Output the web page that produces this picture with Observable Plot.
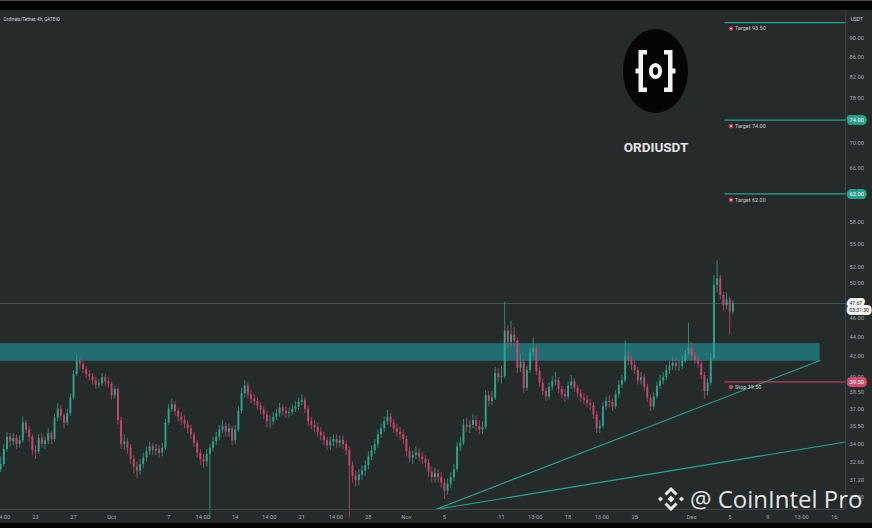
<!DOCTYPE html>
<html><head><meta charset="utf-8">
<script src="https://cdn.jsdelivr.net/npm/d3@7"></script>
<script src="https://cdn.jsdelivr.net/npm/@observablehq/plot@0.6"></script>
<style>
html,body{margin:0;padding:0;background:#000;}
#wrap{position:relative;width:872px;height:528px;overflow:hidden;background:#000;border-top:1px solid #4b4b4b;box-sizing:border-box;}
#chart{position:absolute;left:0;top:9px;}
#overlay{position:absolute;left:0;top:-1px;pointer-events:none;}
</style></head>
<body><div id="wrap"><div id="chart"></div>
<svg id="overlay" width="872" height="528" xmlns="http://www.w3.org/2000/svg">
  <ellipse cx="655.5" cy="71" rx="32.5" ry="42" fill="#050505"/>
  <path d="M647 50 H638.5 V68.5 H635.5 V73.5 H638.5 V92 H647 V87.5 H643 V54.5 H647 Z" fill="#f2f2f2"/>
  <path d="M664 50 H672.5 V68.5 H675.5 V73.5 H672.5 V92 H664 V87.5 H668 V54.5 H664 Z" fill="#f2f2f2"/>
  <ellipse cx="655.5" cy="71" rx="4.6" ry="6" fill="none" stroke="#f2f2f2" stroke-width="4"/>
  <text x="656" y="152" text-anchor="middle" font-family="Roboto, 'Noto Sans', sans-serif" font-weight="700" font-size="13.5" fill="#e5e5e5">ORDIUSDT</text>
  <g fill="rgba(255,255,255,0.9)">
    <polygon points="671,495.5 674.5,499 671,502.5 667.5,499"/>
    <polygon points="660.5,496.5 663,499 660.5,501.5 658,499"/>
    <polygon points="681.5,496.5 684,499 681.5,501.5 679,499"/>
  </g>
  <g fill="none" stroke="rgba(255,255,255,0.9)" stroke-width="3">
    <polyline points="665.5,494.5 671,489 676.5,494.5"/>
    <polyline points="665.5,503.5 671,509 676.5,503.5"/>
  </g>
  <text x="690" y="508" font-family="'Open Sans', sans-serif" font-size="24" fill="rgba(255,255,255,0.9)">@ CoinIntel Pro</text>
</svg>
</div>
<script>
// ---- data ----
const title = "Ordinals/Tether, 4h, GATEIO";
const candleStart = Date.UTC(2023, 8, 19, 8);
const candleStepMs = 8 * 3600 * 1000;
const firstOpen = 32.0;
const closes = [
32.4,33.6,34.6,34.2,34.5,34.0,34.3,35.8,35.2,34.6,
33.5,33.4,34.5,34.0,34.3,34.9,34.4,36.2,37.0,36.4,
35.8,36.6,38.0,40.2,41.5,41.2,40.7,40.2,40.0,39.6,
39.2,39.3,39.9,39.5,39.3,38.2,38.8,36.0,34.0,34.2,
33.7,32.8,32.2,31.9,32.4,32.9,33.4,33.8,33.5,33.6,
33.3,33.7,35.8,37.0,37.4,36.8,36.3,36.0,35.7,35.3,
34.8,34.1,33.3,32.8,32.6,33.2,33.7,34.2,34.6,35.2,
35.5,35.0,35.3,34.3,35.2,36.8,38.4,39.1,38.3,37.9,
37.7,37.3,36.9,36.5,35.9,35.9,36.3,36.6,37.1,36.8,
36.6,36.7,37.0,37.2,37.6,37.8,37.0,35.9,35.6,35.4,
35.0,34.7,34.3,33.9,34.2,34.4,34.1,34.3,34.0,33.5,
32.3,31.5,31.2,31.6,31.9,32.3,33.0,33.5,34.0,34.8,
35.3,35.9,36.3,35.8,35.3,35.0,34.8,34.4,33.4,32.9,
33.1,33.3,33.0,32.8,32.5,31.8,31.4,31.7,31.4,31.0,
30.4,30.9,31.4,32.0,33.8,34.1,35.6,35.4,35.6,36.0,
35.5,35.2,35.4,38.2,37.7,38.0,40.3,39.9,40.0,44.6,
43.4,44.2,43.6,40.8,41.4,38.9,40.6,42.4,42.8,40.5,
39.4,38.6,38.1,39.0,39.5,39.6,38.8,38.3,38.1,39.1,
39.5,38.9,38.4,38.0,37.8,37.5,37.3,36.5,35.3,35.5,
37.2,37.7,37.6,37.2,38.3,39.2,39.6,42.0,41.6,41.1,
40.6,39.6,39.9,39.0,38.0,37.2,38.1,39.1,39.6,39.9,
40.6,41.0,41.3,41.0,41.0,41.5,42.2,42.8,42.0,41.6,
41.2,40.1,38.6,39.4,41.8,49.8,50.6,48.6,47.4,48.1,
46.7,47.67];
const highs = [
33.0,34.0,35.0,34.9,34.9,34.8,34.7,36.3,36.0,35.5,
34.8,33.9,34.8,34.9,34.6,35.3,35.1,36.5,37.5,37.3,
36.6,37.0,38.4,40.6,42.1,41.9,41.5,41.0,40.6,40.3,
39.9,39.7,40.3,40.2,39.9,39.5,39.1,39.0,36.3,34.8,
34.5,34.0,33.1,32.6,32.8,33.3,33.8,34.2,34.1,34.0,
33.9,34.1,36.1,37.4,37.9,37.7,37.1,36.7,36.4,36.0,
35.6,35.0,34.3,33.6,33.2,33.6,34.0,34.6,35.0,35.6,
36.0,35.8,35.7,35.5,35.6,37.2,38.9,39.6,39.4,38.7,
38.3,38.0,37.6,37.2,36.8,36.4,36.7,37.0,37.5,37.4,
37.2,37.1,37.4,37.7,38.0,38.3,38.1,37.3,36.3,36.0,
35.8,35.4,35.0,34.6,34.6,34.8,34.8,34.7,34.7,34.3,
33.8,32.6,31.9,32.0,32.3,32.7,33.4,33.9,34.4,35.2,
35.7,36.3,36.9,36.6,36.1,35.7,35.4,35.2,34.7,33.8,
33.5,33.8,33.7,33.4,33.1,32.8,32.2,32.1,32.0,31.8,
31.3,31.3,31.8,32.4,34.2,34.6,36.1,36.2,36.0,36.5,
36.4,36.0,35.9,38.7,38.6,38.6,40.9,40.8,41.0,47.8,
45.2,45.7,45.0,43.9,42.2,41.7,41.0,42.9,43.9,43.1,
40.9,39.8,38.9,39.4,40.0,40.4,39.9,39.1,38.8,39.5,
40.1,39.8,39.2,38.8,38.4,38.2,37.9,37.6,36.8,36.0,
37.6,38.1,38.2,37.9,38.7,39.6,40.1,43.6,42.6,42.0,
41.5,40.9,40.4,40.2,39.3,38.3,38.5,39.5,40.1,40.4,
41.1,41.5,41.8,41.8,41.6,42.0,42.6,45.5,43.4,42.4,
42.0,41.6,40.4,39.8,42.3,51.0,52.8,51.0,49.0,48.9,
48.4,48.0];
const lows = [
31.8,32.2,33.4,33.8,33.9,33.6,33.7,34.1,34.9,34.2,
33.1,32.8,33.2,33.7,33.6,34.0,34.0,34.2,35.9,36.0,
35.3,35.6,36.4,37.8,40.0,40.7,40.3,39.8,39.6,39.2,
38.8,38.9,39.1,39.1,38.9,37.8,37.9,35.6,33.6,33.5,
33.2,32.4,31.7,31.3,31.6,32.1,32.6,33.1,33.1,33.1,
32.9,33.0,33.5,35.6,36.7,36.4,35.9,35.6,35.3,34.9,
34.4,33.8,32.9,32.3,32.1,32.2,28.4,33.4,33.9,34.3,
34.9,34.6,34.6,33.9,34.0,35.0,36.6,38.0,37.9,37.5,
37.3,36.9,36.5,36.1,35.4,35.3,35.6,36.0,36.3,36.4,
36.2,36.2,36.4,36.7,36.9,37.3,36.6,35.5,35.2,35.0,
34.6,34.3,33.9,33.5,33.5,33.8,33.7,33.7,33.6,33.1,
28.5,31.0,30.7,30.8,31.2,31.5,32.0,32.7,33.2,33.7,
34.5,35.0,35.6,35.4,34.9,34.6,34.3,34.0,33.0,32.5,
32.4,32.8,32.6,32.4,32.1,31.4,31.0,31.0,31.0,30.6,
29.8,30.1,30.6,31.1,31.8,33.4,33.9,35.0,34.9,35.3,
35.1,34.8,34.8,35.2,37.2,37.3,37.8,39.4,39.3,39.8,
42.8,43.0,42.9,40.3,40.4,38.4,38.6,40.3,42.0,40.1,
39.0,38.2,37.7,37.8,38.7,39.1,38.4,37.9,37.6,37.8,
38.8,38.5,38.0,37.6,37.4,37.1,36.9,36.1,34.9,34.9,
35.3,36.9,37.1,36.8,37.0,38.0,38.9,39.4,41.1,40.6,
40.2,39.2,39.2,38.6,37.6,36.8,36.9,37.9,38.8,39.2,
39.6,40.2,40.6,40.6,40.5,40.7,41.3,42.0,41.6,41.2,
40.8,39.7,37.9,38.2,39.1,41.5,48.9,48.1,46.8,46.9,
44.2,46.4];

const xStart = new Date("2023-09-19T07:40Z");
const xEnd = new Date("2023-12-17T04:05Z");
const yMin = 29.09, yMax = 96.25;

const xTickDates = ["2023-09-19T14:00Z","2023-09-23","2023-09-27","2023-10-01","2023-10-07","2023-10-10T14:00Z","2023-10-14","2023-10-17T14:00Z","2023-10-21","2023-10-24T14:00Z","2023-10-28","2023-11-01","2023-11-05","2023-11-11","2023-11-14T13:00Z","2023-11-18","2023-11-21T13:00Z","2023-11-25","2023-12-01","2023-12-05","2023-12-09","2023-12-12T13:00Z","2023-12-16"];
const xTickLabels = ["14:00","23","27","Oct","7","14:00","14","14:00","21","14:00","28","Nov","5","11","13:00","18","13:00","25","Dec","5","9","13:00","16"];
const yTicks = [30,31.2,32.6,34,35.5,37,38.5,40,42,44,46,50,52,55,58,62,66,70,74,78,82,86,90];

const bandLow = 41.5, bandHigh = 43.3, bandEnd = new Date("2023-12-14T12:00Z");
const trendStart = new Date("2023-11-04T01:30Z");
const trendEnds = [
  {date: new Date("2023-12-14T13:00Z"), price: 41.6},
  {date: xEnd, price: 34.2}
];
const targets = [93.5, 74, 62];
const stopPrice = 39.5;
const levelStart = new Date("2023-12-04T12:00Z");
const lastPrice = 47.67;
const countdown = "03:31:30";

// ---- build ----
const up = "#31a38b", down = "#c7486b", teal = "#2aa58f", pink = "#d24c71";
const candles = closes.map((c, i) => ({
  date: new Date(candleStart + i * candleStepMs),
  open: i === 0 ? firstOpen : closes[i - 1],
  close: c, high: highs[i], low: lows[i]
}));
const colorOf = d => d.close >= d.open ? up : down;
const xTicks = xTickDates.map(s => new Date(s));
const xLabelMap = new Map(xTicks.map((d, i) => [+d, xTickLabels[i]]));
const trendLines = trendEnds.map(e => ({x1: trendStart, y1: yMin, x2: e.date, y2: e.price}));
const boxes = [
  {value: 74, text: "74.00", fill: "#ffffff", box: "#26a08c"},
  {value: 62, text: "62.00", fill: "#ffffff", box: "#26a08c"},
  {value: stopPrice, text: stopPrice.toFixed(2), fill: "#ffffff", box: pink}
];

const chart = Plot.plot({
  width: 872, height: 513,
  marginTop: 0, marginRight: 27, marginBottom: 14, marginLeft: 0,
  style: {background: "#252a2a", color: "#a3a7ad", fontFamily: "Roboto, 'Noto Sans', sans-serif", fontSize: "5.8px"},
  x: {type: "utc", domain: [xStart, xEnd], ticks: xTicks, tickFormat: d => xLabelMap.get(+d) ?? "", tickSize: 0, tickPadding: 5, label: null},
  y: {type: "log", domain: [yMin, yMax], ticks: yTicks, tickFormat: d => d.toFixed(2), axis: "right", tickSize: 0, tickPadding: 4, label: null},
  marks: [
    Plot.rect([{x1: xStart, x2: bandEnd, y1: bandLow, y2: bandHigh}], {x1: "x1", x2: "x2", y1: "y1", y2: "y2", fill: "#216d71"}),
    Plot.ruleY([lastPrice], {stroke: "#5a5f63", strokeWidth: 0.8}),
    Plot.link(trendLines, {x1: "x1", y1: "y1", x2: "x2", y2: "y2", stroke: teal, strokeWidth: 1.1}),
    Plot.ruleX(candles, {x: "date", y1: "low", y2: "high", stroke: colorOf, strokeWidth: 0.8}),
    Plot.ruleX(candles, {x: "date", y1: "open", y2: "close", stroke: colorOf, strokeWidth: 1.9}),
    Plot.ruleY(targets, {y: d => d, x1: () => levelStart, x2: () => xEnd, stroke: teal, strokeWidth: 1.2}),
    Plot.ruleY([stopPrice], {y: d => d, x1: () => levelStart, x2: () => xEnd, stroke: pink, strokeWidth: 1}),
    Plot.dot(targets, {x: () => levelStart, y: d => d, dx: 6, dy: 6, r: 2.3, fill: "#b8384f"}),
    Plot.dot(targets, {x: () => levelStart, y: d => d, dx: 6, dy: 6, r: 0.8, fill: "#ffffff"}),
    Plot.text(targets, {x: () => levelStart, y: d => d, text: d => "Target " + d.toFixed(2), dx: 10, dy: 6, textAnchor: "start", fill: "#c9ccd1", fontSize: 5.5}),
    Plot.dot([stopPrice], {x: () => levelStart, y: d => d, dx: 6, dy: 5, r: 2, fill: "#d24c71"}),
    Plot.text([stopPrice], {x: () => levelStart, y: d => d, text: d => "Stop " + d.toFixed(2), dx: 10, dy: 5, textAnchor: "start", fill: "#c9ccd1", fontSize: 5.5}),
    Plot.ruleX([xEnd], {stroke: "#3d4245", strokeWidth: 1}),
    Plot.ruleY([yMin], {stroke: "#3d4245", strokeWidth: 1}),
    Plot.text([title], {frameAnchor: "top-left", text: d => d, dx: 3, dy: 7, textAnchor: "start", fill: "#d1d4dc", fontSize: 4.6}),
    Plot.text(["USDT"], {frameAnchor: "top-right", text: d => d, dx: 5, dy: 7, textAnchor: "start", fill: "#d1d4dc", fontSize: 5}),
    Plot.text(boxes, {x: () => xEnd, y: "value", text: "text", fill: "fill", stroke: "box", strokeWidth: 6, strokeLinejoin: "round", paintOrder: "stroke", dx: 4, textAnchor: "start", fontSize: 5.8}),
    Plot.text([lastPrice], {x: () => xEnd, y: d => d, text: d => d.toFixed(2) + "\n" + countdown, fill: "#1a1d21", stroke: "#f4f4f4", strokeWidth: 6, strokeLinejoin: "round", paintOrder: "stroke", dx: 4, dy: -3, lineAnchor: "top", lineHeight: 1.35, textAnchor: "start", fontSize: 5})
  ]
});
document.getElementById("chart").appendChild(chart);
</script>
</body></html>
